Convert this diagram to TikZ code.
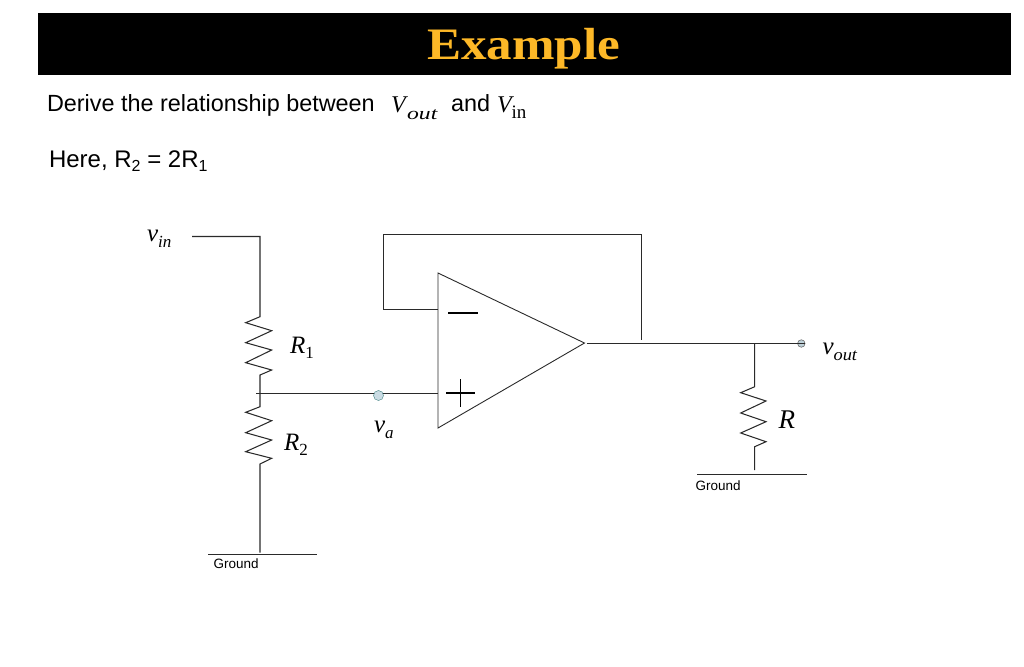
\documentclass[tikz,border=0pt]{standalone}
\usepackage{fontspec}
\usepackage{graphicx}
\setmainfont{Liberation Sans}
\newfontfamily\serifit{Liberation Serif}
\newcommand{\vv}[2]{{\serifit\fontsize{#2}{#2}\selectfont\itshape #1}}
% #1 base, #2 subscript, #3 base size, #4 subscript size
\newcommand{\sbs}[4]{{\serifit\itshape\fontsize{#3}{#3}\selectfont #1\raisebox{-0.27em}{\fontsize{#4}{#4}\selectfont #2}}}
\definecolor{titlegold}{HTML}{FDB827}
\definecolor{wire}{HTML}{2A2A2A}
\tikzset{
  x=1pt,y=-1pt,
  wireline/.style={draw=wire,line width=1.05pt,line join=miter},
  thinline/.style={draw=wire,line width=0.9pt,line join=miter},
  signline/.style={draw=black,line width=1.3pt},
  lbl/.style={inner sep=0pt,outer sep=0pt,anchor=base west},
  bodytext/.style={lbl,font=\fontsize{23.4}{24}\selectfont},
  heretext/.style={lbl,font=\fontsize{24}{24}\selectfont},
  gnd/.style={lbl,font=\fontsize{13.5}{13.5}\selectfont},
  term/.style={circle,inner sep=0pt,minimum size=#1},
}
\begin{document}
\begin{tikzpicture}
\useasboundingbox (0,0) rectangle (1024,666);
\node[fill=black,minimum width=973pt,minimum height=62pt,inner sep=0pt,anchor=north west] (bar) at (37.5,13) {};
\node[inner sep=0pt,anchor=base,text=titlegold] (title) at (523.5,60) {\scalebox{1.135}[1]{\serifit\fontsize{45}{45}\selectfont\bfseries Example}};
\node[bodytext] (derive) at (47,111) {Derive the relationship between};
\node[lbl] (vo) at (391,113) {\sbs{V}{\hspace{1.5pt}\scalebox{1.35}[1]{out}}{24}{17.5}};
\node[bodytext] (and) at (451,111) {and};
\node[lbl] (vi) at (497,113) {{\serifit\fontsize{24}{24}\selectfont\itshape V\raisebox{-0.22em}{\fontsize{19}{19}\selectfont\upshape in}}};
\node[heretext] (here) at (49,167) {Here, R\raisebox{-0.2em}{\fontsize{16}{16}\selectfont 2} = 2R\raisebox{-0.2em}{\fontsize{16}{16}\selectfont 1}};

% op-amp corners
\coordinate (ta) at (438,273);
\coordinate (tb) at (584.5,343);
\coordinate (tc) at (438,428);
\draw[thinline] (ta) -- (tb) -- (tc) -- cycle;
\coordinate (mn1) at (448,313); \coordinate (mn2) at (477.5,313);
\draw[signline] (mn1) -- (mn2);
\coordinate (pl1) at (446,393); \coordinate (pl2) at (475,393);
\coordinate (pl3) at (460.5,379); \coordinate (pl4) at (460.5,407);
\draw[signline] (pl1) -- (pl2) (pl3) -- (pl4);

% feedback
\coordinate (inm) at (438,309);
\coordinate (fb0) at (641.7,339.5);
\draw[thinline] (inm) -- (383,309) -- (383,234.5) -- (641.7,234.5) -- (fb0);

% input and R1
\coordinate (vinend) at (192,236.5);
\coordinate (mid) at (260,393);
\draw[wireline] (vinend) -- (260,236.5) -- (260,316.7) -- (245.7,322.7) -- (271.7,330.7) -- (245.7,342.7) -- (271.7,350) -- (245.7,362.7) -- (271.7,370) -- (260,375) -- (mid);
% R2
\coordinate (gl1) at (208,554.3); \coordinate (gl2) at (317.3,554.3);
\coordinate (gtop1) at (260,552.7);
\draw[wireline] (mid) -- (260,406.7) -- (245.7,412.3) -- (271.7,420.7) -- (245.7,432.7) -- (271.7,440) -- (245.7,451.7) -- (271.7,458.3) -- (260,464) -- (gtop1);
\draw[thinline] (gl1) -- (gl2);

% non-inverting input wire with node
\coordinate (midl) at (256,393.4);
\coordinate (inp) at (438,393.4);
\draw[thinline] (midl) -- (inp);
\node[term=10pt,draw=teal!50!gray,line width=0.4pt,fill=cyan!35!gray!35] (va) at (378.5,395.5) {};

% output
\coordinate (outs) at (586.7,343.5);
\coordinate (junc) at (754.7,343.5);
\node[term=7.5pt,draw=wire!70,line width=0.6pt,fill=cyan!30!gray!45] (vout) at (801.3,343.5) {};
\draw[wireline] (outs) -- (junc) -- (vout);
\draw[line width=0.7pt,draw=wire] (vout.west) -- (vout.east);

% R
\coordinate (rb) at (754.7,470);
\draw[wireline] (junc) -- (754.7,386.7) -- (740.7,392.7) -- (766,401) -- (740.7,413) -- (766,421.7) -- (740.7,433) -- (766,441.7) -- (754.7,446.7) -- (rb);
\coordinate (gr1) at (697.3,474.3); \coordinate (gr2) at (807,474.3);
\draw[thinline] (gr1) -- (gr2);

% labels
\node[lbl] (lvin) at (147,241) {\sbs{v}{in}{25}{17}};
\node[lbl] (lr1) at (290,353) {{\serifit\fontsize{25}{25}\selectfont\itshape R\raisebox{-0.22em}{\fontsize{17}{17}\selectfont\upshape 1}}};
\node[lbl] (lr2) at (284,450) {{\serifit\fontsize{25}{25}\selectfont\itshape R\raisebox{-0.22em}{\fontsize{17}{17}\selectfont\upshape 2}}};
\node[lbl] (lva) at (374,432) {\sbs{v}{a}{25}{17}};
\node[lbl] (lvout) at (822.5,354) {\sbs{v}{\scalebox{1.08}[1]{out}}{25}{17}};
\node[lbl] (lr) at (778.5,428) {\vv{R}{27}};
\node[gnd] (g1) at (213.5,568) {Ground};
\node[gnd] (g2) at (695.5,490) {Ground};
\end{tikzpicture}
\end{document}
